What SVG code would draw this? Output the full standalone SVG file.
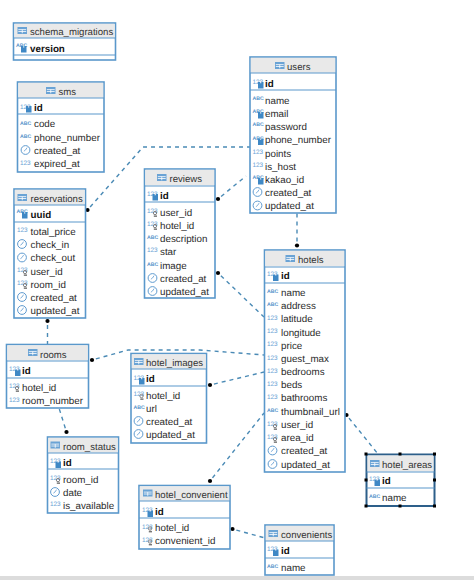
<svg xmlns="http://www.w3.org/2000/svg" width="474" height="580" viewBox="0 0 474 580">
<style>
text{font-family:"Liberation Sans",Arial,sans-serif;font-size:9.800px;fill:#2a2a2a;text-rendering:geometricPrecision}
.pk{font-weight:700;fill:#111}
.t{font-size:9.600px;fill:#333}
.a{font-size:5.200px;font-weight:700;fill:#4f8fc9}
.n{font-size:6.400px;fill:#6aa3d5}
.box{fill:#fff;stroke:#5a98cb;stroke-width:1.6}
.hd{fill:#e9e9e9}
.sep{stroke:#5a98cb;stroke-width:1.2;fill:none}
.c{fill:none;stroke:#4a8ab5;stroke-width:1.4;stroke-dasharray:4 4;stroke-dashoffset:4;marker-start:url(#dot)}
.h{fill:#000}
</style>
<defs>
<marker id="dot" markerUnits="userSpaceOnUse" markerWidth="6" markerHeight="6" refX="3" refY="3"><circle cx="3" cy="3" r="2.1" fill="#000"/></marker>
<g id="tb"><rect x="0" y="0" width="9.500" height="7" fill="#6aa3d5"/><path d="M.8 2.600H8.700M4.750 2.600V6.300M.8 4.500H8.700" stroke="#fff" stroke-width=".8" fill="none"/></g>
<g id="clk"><circle r="4.400" fill="#fff" stroke="#5f9bd0" stroke-width="1"/><path d="M0 0L1.600-2.400M0 0L-1.600 1.200" stroke="#5f9bd0" stroke-width=".8" fill="none"/></g>
<g id="key"><path d="M0 0h2.200v1.600h1.100V0h2.200v6.400H0z" fill="#3f88c5"/></g>
<g id="fk"><circle cx="2" cy="2" r="1.700" fill="none" stroke="#777" stroke-width=".9"/><path d="M.8 4.400h3.200v1.500H.8z" fill="#777"/></g>
</defs>
<rect x="0" y="576" width="474" height="4" fill="#dcdcdc"/>
<g id="connectors">
<path class="c" d="M87.500 210L143 147H250"/>
<path class="c" d="M218 199L246 176"/>
<path class="c" d="M297 245.500V213"/>
<path class="c" d="M218 273L264 317"/>
<path class="c" d="M47.500 321V344"/>
<path class="c" d="M92 360L128 350H200L264 355"/>
<path class="c" d="M210 385L264 372"/>
<path class="c" d="M66.500 432L59 408"/>
<path class="c" d="M210 481L264 413"/>
<path class="c" d="M232.500 529L265 538"/>
<path class="c" d="M346.500 415L378 454"/>
</g>
<g id="schema_migrations">
<rect class="box" x="13.500" y="23" width="102" height="37"/><rect class="hd" x="14.300" y="23.800" width="100.400" height="14"/>
<path class="sep" d="M13.500 38H115.500M13.500 55H115.500"/>
<use href="#tb" x="17.500" y="27"/><text class="t" x="30" y="35">schema_migrations</text>
<text class="a" x="16" y="47">ABC</text><use href="#key" x="21" y="46"/><text class="pk" x="30" y="51.500">version</text>
</g>
<g id="sms">
<rect class="box" x="17.500" y="82" width="86.500" height="90"/><rect class="hd" x="18.300" y="82.800" width="84.900" height="15"/>
<path class="sep" d="M17.500 98H104M17.500 114H104"/>
<use href="#tb" x="46" y="87"/><text class="t" x="58.500" y="94.500">sms</text>
<text class="n" x="20" y="109">123</text><use href="#key" x="26" y="106"/><text class="pk" x="34" y="110.500">id</text>
<text class="a" x="20" y="125">ABC</text><text x="34" y="127">code</text>
<text class="a" x="20" y="138">ABC</text><text x="34" y="140.500">phone_number</text>
<use href="#clk" x="25.500" y="150"/><text x="34" y="153.500">created_at</text>
<text class="n" x="20" y="165">123</text><text x="34" y="167">expired_at</text>
</g>
<g id="reservations">
<rect class="box" x="14" y="189" width="71.500" height="129"/><rect class="hd" x="14.800" y="189.800" width="69.900" height="15"/>
<path class="sep" d="M14 205H85.500M14 222H85.500"/>
<use href="#tb" x="17.500" y="194"/><text class="t" x="30.500" y="202">reservations</text>
<text class="a" x="16.500" y="213">ABC</text><use href="#key" x="22" y="212"/><text class="pk" x="30.500" y="217.500">uuid</text>
<text class="n" x="17" y="232">123</text><text x="30.500" y="234.500">total_price</text>
<use href="#clk" x="22" y="244"/><text x="30.500" y="247.500">check_in</text>
<use href="#clk" x="22" y="257.500"/><text x="30.500" y="261">check_out</text>
<text class="n" x="17" y="272">123</text><use href="#fk" x="23" y="270"/><text x="30.500" y="274.500">user_id</text>
<text class="n" x="17" y="285">123</text><use href="#fk" x="23" y="283"/><text x="30.500" y="287.500">room_id</text>
<use href="#clk" x="22" y="297"/><text x="30.500" y="300.500">created_at</text>
<use href="#clk" x="22" y="310"/><text x="30.500" y="313.500">updated_at</text>
</g>
<g id="reviews">
<rect class="box" x="144.500" y="169" width="70.500" height="129"/><rect class="hd" x="145.300" y="169.800" width="68.900" height="15.500"/>
<path class="sep" d="M144.500 186H215M144.500 202H215"/>
<use href="#tb" x="157" y="174"/><text class="t" x="169.500" y="181.500">reviews</text>
<text class="n" x="147" y="196">123</text><use href="#key" x="152.500" y="194"/><text class="pk" x="160" y="198.500">id</text>
<text class="n" x="147" y="213">123</text><use href="#fk" x="153" y="211"/><text x="160" y="215.500">user_id</text>
<text class="n" x="147" y="226">123</text><use href="#fk" x="153" y="224"/><text x="160" y="228.500">hotel_id</text>
<text class="a" x="147" y="239">ABC</text><text x="160" y="241.500">description</text>
<text class="n" x="147" y="252">123</text><text x="160" y="254.500">star</text>
<text class="a" x="147" y="266">ABC</text><text x="160" y="268.500">image</text>
<use href="#clk" x="152.500" y="278"/><text x="160" y="281.500">created_at</text>
<use href="#clk" x="152.500" y="291"/><text x="160" y="294.500">updated_at</text>
</g>
<g id="users">
<rect class="box" x="250" y="57" width="86" height="156"/><rect class="hd" x="250.800" y="57.800" width="84.400" height="15"/>
<path class="sep" d="M250 73H336M250 90H336"/>
<use href="#tb" x="275" y="62"/><text class="t" x="287" y="70">users</text>
<text class="n" x="252.500" y="84">123</text><use href="#key" x="258" y="82"/><text class="pk" x="265" y="86.500">id</text>
<text class="a" x="252.500" y="100">ABC</text><text x="265" y="103.500">name</text>
<text class="a" x="252.500" y="113">ABC</text><use href="#key" x="258" y="112"/><text x="265" y="116.500">email</text>
<text class="a" x="252.500" y="126">ABC</text><text x="265" y="129.500">password</text>
<text class="a" x="252.500" y="139.500">ABC</text><use href="#key" x="258" y="138.500"/><text x="265" y="143">phone_number</text>
<text class="n" x="252.500" y="154">123</text><text x="265" y="156.500">points</text>
<text class="n" x="252.500" y="167">123</text><text x="265" y="169.500">is_host</text>
<text class="a" x="252.500" y="179">ABC</text><use href="#key" x="258" y="178"/><text x="265" y="182.500">kakao_id</text>
<use href="#clk" x="257.500" y="192"/><text x="265" y="195.500">created_at</text>
<use href="#clk" x="257.500" y="205.500"/><text x="265" y="209">updated_at</text>
</g>
<g id="hotels">
<rect class="box" x="264.500" y="250" width="80.500" height="222"/><rect class="hd" x="265.300" y="250.800" width="78.900" height="15.500"/>
<path class="sep" d="M264.500 267H345M264.500 283H345"/>
<use href="#tb" x="285.500" y="255"/><text class="t" x="298" y="262.500">hotels</text>
<text class="n" x="267" y="276">123</text><use href="#key" x="273" y="274.500"/><text class="pk" x="281" y="278.500">id</text>
<text class="a" x="267" y="293">ABC</text><text x="281" y="296">name</text>
<text class="a" x="267" y="306">ABC</text><text x="281" y="309">address</text>
<text class="n" x="267" y="319.500">123</text><text x="281" y="322">latitude</text>
<text class="n" x="267" y="333">123</text><text x="281" y="335.500">longitude</text>
<text class="n" x="267" y="346">123</text><text x="281" y="348.500">price</text>
<text class="n" x="267" y="359.500">123</text><text x="281" y="362">guest_max</text>
<text class="n" x="267" y="372.500">123</text><text x="281" y="375">bedrooms</text>
<text class="n" x="267" y="385.500">123</text><text x="281" y="388">beds</text>
<text class="n" x="267" y="398.500">123</text><text x="281" y="401">bathrooms</text>
<text class="a" x="267" y="411.500">ABC</text><text x="281" y="414.500">thumbnail_url</text>
<text class="n" x="267" y="425.500">123</text><use href="#fk" x="273" y="424"/><text x="281" y="428">user_id</text>
<text class="n" x="267" y="438.500">123</text><use href="#fk" x="273" y="437"/><text x="281" y="441">area_id</text>
<use href="#clk" x="272.500" y="450.500"/><text x="281" y="454">created_at</text>
<use href="#clk" x="272.500" y="464"/><text x="281" y="467.500">updated_at</text>
</g>
<g id="rooms">
<rect class="box" x="6.500" y="344.500" width="82" height="63.500"/><rect class="hd" x="7.300" y="345.300" width="80.400" height="15"/>
<path class="sep" d="M6.500 361H88.500M6.500 378H88.500"/>
<use href="#tb" x="28" y="349"/><text class="t" x="40" y="357.500">rooms</text>
<text class="n" x="9" y="371">123</text><use href="#key" x="15" y="369.500"/><text class="pk" x="22" y="373.500">id</text>
<text class="n" x="9" y="388">123</text><use href="#fk" x="15" y="386"/><text x="22" y="390.500">hotel_id</text>
<text class="n" x="9" y="401.500">123</text><text x="22" y="404">room_number</text>
</g>
<g id="room_status">
<rect class="box" x="47.500" y="437" width="71" height="76"/><rect class="hd" x="48.300" y="437.800" width="69.400" height="15"/>
<path class="sep" d="M47.500 453H118.500M47.500 469H118.500"/>
<use href="#tb" x="50.500" y="441.500"/><text class="t" x="63" y="449.500">room_status</text>
<text class="n" x="50" y="463">123</text><use href="#key" x="55.500" y="461.500"/><text class="pk" x="63" y="465.500">id</text>
<text class="n" x="50" y="480">123</text><use href="#fk" x="56" y="478"/><text x="63" y="482.500">room_id</text>
<use href="#clk" x="55" y="492"/><text x="63" y="495.500">date</text>
<text class="n" x="50" y="506">123</text><text x="63" y="508.500">is_available</text>
</g>
<g id="hotel_images">
<rect class="box" x="131" y="353.500" width="75.500" height="89.500"/><rect class="hd" x="131.800" y="354.300" width="73.900" height="14.500"/>
<path class="sep" d="M131 369H206.500M131 386H206.500"/>
<use href="#tb" x="134" y="358"/><text class="t" x="146" y="365.500">hotel_images</text>
<text class="n" x="133.500" y="379.500">123</text><use href="#key" x="139" y="378"/><text class="pk" x="146" y="382">id</text>
<text class="n" x="133.500" y="396">123</text><use href="#fk" x="139.500" y="394"/><text x="146" y="398.500">hotel_id</text>
<text class="a" x="133.500" y="409">ABC</text><text x="146" y="411.500">url</text>
<use href="#clk" x="138.500" y="421"/><text x="146" y="424.500">created_at</text>
<use href="#clk" x="138.500" y="434"/><text x="146" y="437.500">updated_at</text>
</g>
<g id="hotel_convenient">
<rect class="box" x="139" y="485.500" width="91" height="63.500"/><rect class="hd" x="139.800" y="486.300" width="89.400" height="14.500"/>
<path class="sep" d="M139 501H230M139 518H230"/>
<use href="#tb" x="143" y="489.500"/><text class="t" x="155" y="497.500">hotel_convenient</text>
<text class="n" x="142" y="512">123</text><use href="#key" x="147.500" y="510.500"/><text class="pk" x="155" y="514.500">id</text>
<text class="n" x="142" y="528.500">123</text><use href="#fk" x="148" y="526.500"/><text x="155" y="531">hotel_id</text>
<text class="n" x="142" y="541.500">123</text><use href="#fk" x="148" y="539.500"/><text x="155" y="544">convenient_id</text>
</g>
<g id="convenients">
<rect class="box" x="265" y="525" width="69" height="50"/><rect class="hd" x="265.800" y="525.800" width="67.400" height="15"/>
<path class="sep" d="M265 541H334M265 558H334"/>
<use href="#tb" x="268.500" y="530"/><text class="t" x="281" y="537.500">convenients</text>
<text class="n" x="267" y="551">123</text><use href="#key" x="273" y="549.500"/><text class="pk" x="281" y="553.500">id</text>
<text class="a" x="267" y="568">ABC</text><text x="281" y="570.500">name</text>
</g>
<g id="hotel_areas">
<rect x="366.500" y="454.500" width="68" height="51.500" fill="#fff" stroke="#2d5f8a" stroke-width="2"/><rect class="hd" x="367.500" y="455.500" width="66" height="16"/>
<path class="sep" d="M366.500 472H434.500M366.500 488H434.500"/>
<use href="#tb" x="370" y="460"/><text class="t" x="382" y="468">hotel_areas</text>
<text class="n" x="369" y="481">123</text><use href="#key" x="374.500" y="479.500"/><text class="pk" x="382" y="484">id</text>
<text class="a" x="369" y="498">ABC</text><text x="382" y="500.500">name</text>
<path class="h" d="M364.500 452.500h3v3h-3zM398.500 452.500h3v3h-3zM433 452.500h3v3h-3zM364.500 478.500h3v3h-3zM433 478.500h3v3h-3zM364.500 504.500h3v3h-3zM398.500 504.500h3v3h-3zM433 504.500h3v3h-3z"/>
</g>
</svg>
